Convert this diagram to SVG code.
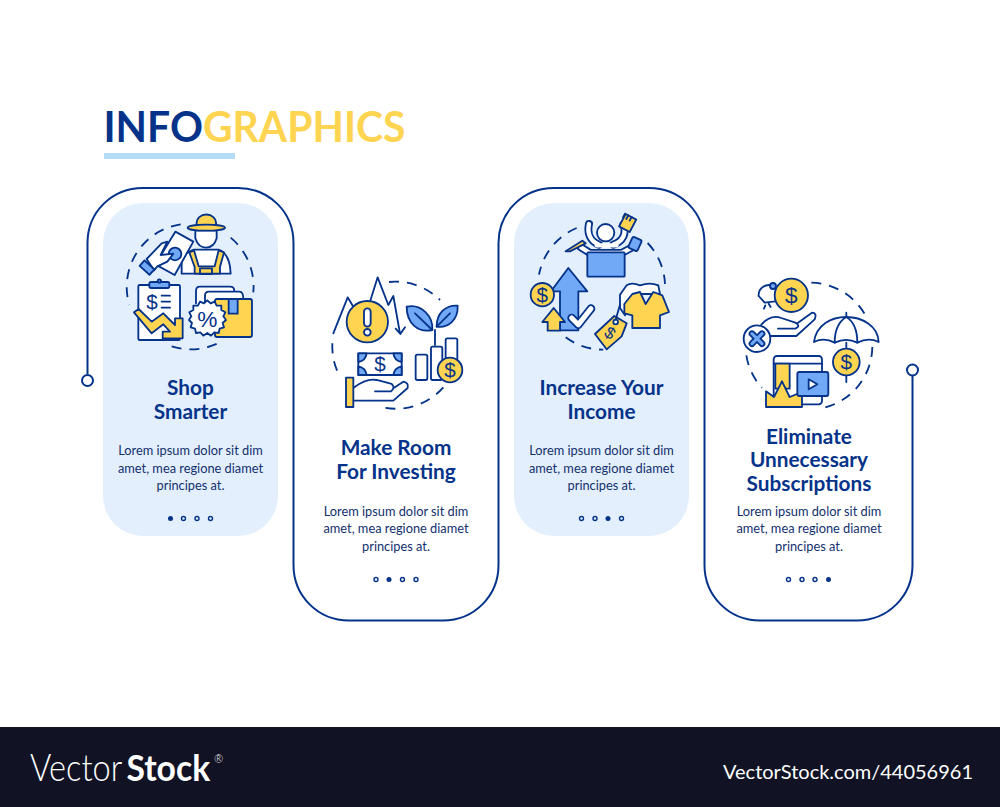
<svg xmlns="http://www.w3.org/2000/svg" width="1000" height="807" viewBox="0 0 1000 807">
<style>
text{font-family:Lato,"Liberation Sans",sans-serif}
.h{font-size:20.800px;font-weight:700;fill:#05338a;text-anchor:middle}
.b{font-size:12.800px;fill:#12306e;text-anchor:middle}
.i path,.i rect,.i circle,.i ellipse,.i polygon,.i polyline,.i line{stroke:#05338a;stroke-width:5.500;stroke-linejoin:round;stroke-linecap:round}
.i .d{fill:none;stroke-dasharray:30 24;stroke-linecap:butt;stroke-width:5.500}
.n{fill:none}.w{fill:#fff}.y{fill:#ffd450}.l{fill:#72a9f7}
.i text{fill:#05338a;text-anchor:middle;font-family:"Liberation Sans",sans-serif;font-size:62px}
.dot{fill:#05338a}.o{fill:none;stroke:#05338a;stroke-width:1.400}
</style>
<rect width="1000" height="807" fill="#fff"/>
<g id="title">
<text x="103.500" y="142" font-size="42" font-weight="700" textLength="302" lengthAdjust="spacingAndGlyphs"><tspan fill="#05338a">INFO</tspan><tspan fill="#ffd450">GRAPHICS</tspan></text>
<rect x="104" y="153" width="131" height="6" fill="#b5dcf7"/>
</g>
<g id="panels">
<rect x="103" y="203" width="175" height="333" rx="40" fill="#e3effd"/>
<rect x="514" y="203" width="175" height="333" rx="40" fill="#e3effd"/>
</g>
<g id="connectors">
<path d="M87.500 374V243C87.500 212 112 188 143 188H238C269 188 293.500 212 293.500 243V565C293.500 596 318 620.500 349 620.500H443C474 620.500 498.500 596 498.500 565V243C498.500 212 523 188 554 188H649C680 188 704.500 212 704.500 243V565C704.500 596 729 620.500 760 620.500H857C888 620.500 912.500 596 912.500 565V376" fill="none" stroke="#05338a" stroke-width="2"/>
<circle cx="87.500" cy="380.500" r="5.500" fill="#fff" stroke="#05338a" stroke-width="2"/>
<circle cx="912.500" cy="370" r="5.500" fill="#fff" stroke="#05338a" stroke-width="2"/>
</g>
<g id="node-1">
<g class="i" transform="translate(120 205) scale(.3333)">
<path class="d" d="M182 58A190 190 0 0 0 28 300"/><path class="d" d="M332 98A190 190 0 0 1 400 262"/><path class="d" d="M155 424A190 190 0 0 0 292 416"/>
<path class="w" d="M185 206V170Q188 145 222 134H295Q330 145 332 206Z"/>
<path class="y" d="M208 142L224 186V206H300V186L312 142L296 136L284 184H236L222 136Z"/><rect class="n" x="240" y="190" width="36" height="17"/>
<path class="w" d="M226 76V100Q235 128 258 128Q282 128 290 100V76Z"/>
<path class="y" d="M230 60C226 18 292 18 288 60Z"/><ellipse class="y" cx="259" cy="68" rx="56" ry="9"/>
<path class="w" d="M166 80L220 110L164 210L106 178Z"/><circle class="l" cx="165" cy="147" r="19"/>
<path class="w" d="M80 162L125 115L142 110L122 150L160 146L142 170L112 184L102 196Z"/>
<rect class="l" x="70" y="168" width="22" height="40" transform="rotate(-48 81 188)"/>
<rect class="w" x="55" y="240" width="125" height="165" rx="4"/><rect class="l" x="88" y="231" width="60" height="18" rx="5"/><circle class="l" cx="118" cy="228" r="5"/>
<text x="96" y="312">$</text><path class="n" d="M125 272H150M125 290H150M125 308H150"/>
<path class="y" d="M42 322L56 312L95 350L130 325L165 360V340H188V400H128V380H150L130 358L95 385Z"/>
<path class="w" d="M228 295V258Q228 245 240 245H330Q343 245 343 258M255 290V272Q255 260 267 260H358Q370 260 370 282"/>
<rect class="y" x="285" y="282" width="111" height="114" rx="6"/><rect class="l" x="326" y="282" width="27" height="44"/>
<polygon class="w" points="262,286 272,295 284,290 290,302 304,302 304,315 316,322 310,334 318,345 308,354 312,367 299,371 296,384 283,382 273,392 262,384 250,392 241,382 228,384 225,371 212,367 216,354 207,345 214,334 208,322 220,315 220,302 234,302 240,290 252,295"/>
<text x="262" y="365" style="font-size:68px">%</text>
</g>
<text class="h" x="190.500" y="395">Shop</text><text class="h" x="190.500" y="418.500">Smarter</text>
<text class="b" x="190.500" y="455">Lorem ipsum dolor sit dim</text><text class="b" x="190.500" y="472.500">amet, mea regione diamet</text><text class="b" x="190.500" y="490">principes at.</text>
<circle class="dot" cx="170.500" cy="518.500" r="2.500"/><circle class="o" cx="183.500" cy="518.500" r="2"/><circle class="o" cx="197" cy="518.500" r="2"/><circle class="o" cx="210.500" cy="518.500" r="2"/>
</g>
<g id="node-2">
<g class="i" transform="translate(325 270) scale(.3333)">
<path class="d" d="M192 36A190 190 0 0 1 345 90"/><path class="d" d="M355 352A190 190 0 0 1 172 412"/><path class="d" d="M22 220A190 190 0 0 0 46 322"/>
<path class="n" d="M25 190L68 82L85 110M135 95L158 22L190 105L205 78L225 190M212 176L226 192L240 172"/>
<circle class="y" cx="127" cy="155" r="62"/><rect class="w" x="117" y="115" width="20" height="55" rx="10"/><circle class="w" cx="127" cy="187" r="10"/>
<path class="l" d="M245 110C290 100 325 140 322 180C280 190 245 160 245 110Z"/><path class="n" d="M270 130L322 180"/>
<path class="l" d="M398 107C400 150 370 175 335 170C335 130 360 105 398 107Z"/><path class="n" d="M330 180V225M335 170L375 130"/>
<rect class="w" x="272" y="254" width="35" height="76" rx="5"/><rect class="w" x="362" y="205" width="35" height="85" rx="5"/><rect class="w" x="318" y="230" width="34" height="100" rx="5"/>
<circle class="y" cx="375" cy="300" r="37"/><text x="375" y="322">$</text>
<rect class="w" x="100" y="250" width="130" height="65"/>
<path class="l" d="M100 250H125Q122 272 100 276ZM230 250H205Q208 272 230 276ZM100 315H125Q122 293 100 289ZM230 315H205Q208 293 230 289Z"/>
<text x="165" y="304">$</text>
<rect class="y" x="63" y="323" width="22" height="88"/>
<path class="w" d="M88 352C110 335 130 325 155 330L200 342Q212 352 198 364H150M205 355L235 335Q252 338 248 354L205 392H88"/>
</g>
<text class="h" x="396" y="455">Make Room</text><text class="h" x="396" y="479">For Investing</text>
<text class="b" x="396" y="515.500">Lorem ipsum dolor sit dim</text><text class="b" x="396" y="533">amet, mea regione diamet</text><text class="b" x="396" y="550.500">principes at.</text>
<circle class="o" cx="376" cy="579.500" r="2"/><circle class="dot" cx="389" cy="579.500" r="2.500"/><circle class="o" cx="402.500" cy="579.500" r="2"/><circle class="o" cx="416" cy="579.500" r="2"/>
</g>
<g id="node-3">
<g class="i" transform="translate(525 208) scale(.3333)">
<path class="d" d="M155 60A190 190 0 0 0 42 200"/><path class="d" d="M368 105A190 190 0 0 1 420 228"/><path class="d" d="M122 388A190 190 0 0 0 235 425"/>
<path d="M192 48C186 75 195 100 222 110M295 50C305 75 295 100 265 110M168 118L195 135H290L322 118" fill="none" style="stroke-width:24"/>
<path d="M192 48C186 75 195 100 222 110M295 50C305 75 295 100 265 110M168 118L195 135H290L322 118M215 112H275" fill="none" style="stroke:#fff;stroke-width:13"/>
<circle class="w" cx="242" cy="74" r="26"/>
<path class="y" d="M122 130L172 98L182 106L135 130Z"/>
<rect class="y" x="290" y="24" width="36" height="42" transform="rotate(28 308 45)"/><path class="n" d="M300 17L294 28M310 22L304 33M320 27L314 38"/>
<rect class="l" x="315" y="90" width="30" height="36" rx="5" transform="rotate(24 330 108)"/>
<rect class="l" x="187" y="133" width="112" height="73" rx="3"/>
<path class="l" d="M78 250L130 180L187 250H160V367H105V250Z"/>
<circle class="y" cx="52" cy="260" r="35"/><text x="52" y="282">$</text>
<path class="y" d="M52 342L86 300L120 342H105V368H68V342Z"/>
<path d="M140 330L160 350L198 302" fill="none" style="stroke-width:26"/><path d="M140 330L160 350L198 302" fill="none" style="stroke:#fff;stroke-width:15"/>
<path class="w" d="M305 232Q320 222 345 232Q375 222 400 232L405 258H325L300 322L285 300V260Z"/>
<path class="y" d="M298 288L322 258L345 252L362 288L385 252L412 262L432 312L405 322V360H322V322L298 316Z"/>
<path class="y" d="M210 378L268 324L305 346L290 385L245 424Z"/><circle class="w" cx="272" cy="342" r="7"/><path class="n" d="M272 335L285 290"/>
<text x="255" y="392" transform="rotate(35 255 375)" style="font-size:50px">$</text>
</g>
<text class="h" x="601.500" y="395">Increase Your</text><text class="h" x="601.500" y="418.500">Income</text>
<text class="b" x="601.500" y="455">Lorem ipsum dolor sit dim</text><text class="b" x="601.500" y="472.500">amet, mea regione diamet</text><text class="b" x="601.500" y="490">principes at.</text>
<circle class="o" cx="581.500" cy="518.500" r="2"/><circle class="o" cx="595" cy="518.500" r="2"/><circle class="dot" cx="608" cy="518.500" r="2.500"/><circle class="o" cx="621.500" cy="518.500" r="2"/>
</g>
<g id="node-4">
<g class="i" transform="translate(738 272) scale(.3333)">
<path class="d" d="M220 32A190 190 0 0 1 385 135"/><path class="d" d="M403 225A190 190 0 0 1 262 406"/><path class="d" d="M25 250A190 190 0 0 0 72 348"/>
<path class="w" d="M108 44C85 30 60 50 62 72L80 92L112 88"/><circle class="l" cx="105" cy="42" r="9"/><path class="n" d="M82 100L78 110M92 95L98 105"/>
<circle class="y" cx="160" cy="70" r="50"/><text x="160" y="94" style="font-size:68px">$</text>
<path class="w" d="M70 158C90 135 110 130 130 138L172 152Q190 162 172 170H120M176 155L222 122Q238 122 230 142L175 192H85"/>
<circle class="w" cx="57" cy="200" r="40"/><path d="M42 185L72 215M72 185L42 215" style="stroke-width:20;fill:none"/><path d="M42 185L72 215M72 185L42 215" style="stroke:#72a9f7;stroke-width:9;fill:none"/>
<path class="n" d="M325 122V135M325 212V235M325 310V330"/>
<path class="w" d="M228 210C235 158 280 135 325 135C370 135 420 160 422 210Q392 195 358 212Q325 195 290 212Q258 195 228 210Z"/>
<path class="n" d="M325 135C300 150 290 180 290 212M325 135C350 150 358 180 358 212"/>
<circle class="y" cx="325" cy="270" r="40"/><text x="325" y="292">$</text>
<rect class="w" x="107" y="252" width="145" height="145" rx="10"/><path class="n" d="M107 275H252"/>
<path class="y" d="M112 275H155V350H112Z"/>
<path class="y" d="M84 405V358L108 375L132 328L155 375L192 360V405Z"/>
<rect class="l" x="178" y="300" width="93" height="72" rx="6"/><polygon class="w" points="212,322 238,337 212,352"/>
</g>
<text class="h" x="809" y="443.500">Eliminate</text><text class="h" x="809" y="467">Unnecessary</text><text class="h" x="809" y="490.500">Subscriptions</text>
<text class="b" x="809" y="515.500">Lorem ipsum dolor sit dim</text><text class="b" x="809" y="533">amet, mea regione diamet</text><text class="b" x="809" y="550.500">principes at.</text>
<circle class="o" cx="788.500" cy="579.500" r="2"/><circle class="o" cx="802" cy="579.500" r="2"/><circle class="o" cx="815" cy="579.500" r="2"/><circle class="dot" cx="828.500" cy="579.500" r="2.500"/>
</g>
<g id="footer">
<rect y="727" width="1000" height="80" fill="#111325"/>
<text transform="translate(30 781) scale(.88 1)" font-size="37" fill="#fff" font-weight="300">Vector</text>
<text transform="translate(126.500 781) scale(.91 1)" font-size="37" fill="#fff" font-weight="700">Stock</text>
<text x="214" y="763" font-size="11" fill="#fff" font-weight="300">®</text>
<text x="723" y="779" font-size="19" fill="#fff" textLength="250" lengthAdjust="spacingAndGlyphs">VectorStock.com/44056961</text>
</g>
</svg>
